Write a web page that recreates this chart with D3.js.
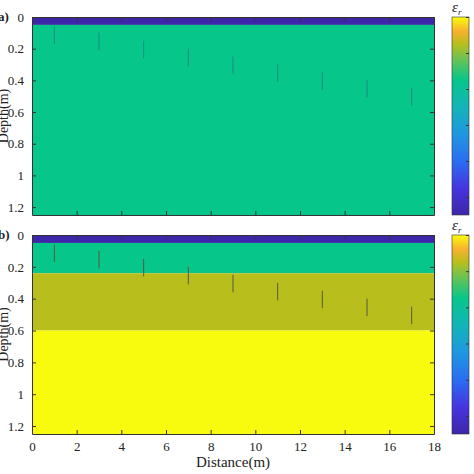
<!DOCTYPE html>
<html><head><meta charset="utf-8">
<script src="https://cdn.jsdelivr.net/npm/d3@7"></script>
<style>body{margin:0;background:#fff}svg text{font-family:"Liberation Serif","DejaVu Serif",serif !important;fill:#222}</style>
</head><body><svg id="c" width="474" height="474"></svg>
<script>
// layers: [top, bottom, eps]
const layersA = [[0, 0.05, 1], [0.05, 1.25, 8.5]];
const layersB = [[0, 0.05, 1], [0.05, 0.24, 8.5], [0.24, 0.6, 10.5], [0.6, 1.25, 12]];
const pipeX = [1, 3, 5, 7, 9, 11, 13, 15, 17];
const pipeTop = [0.06, 0.1, 0.15, 0.2, 0.25, 0.3, 0.35, 0.4, 0.45];
const pipeLen = 0.11;
const xTicks = [0, 2, 4, 6, 8, 10, 12, 14, 16, 18];
const yTicks = [0, 0.2, 0.4, 0.6, 0.8, 1, 1.2];
const cbTicks = [2, 4, 6, 8, 10, 12];
const cmapVals = [1, 2.5, 4, 5.5, 7, 8.5, 9.7, 10.5, 11.2, 12];
const cmapCols = ["#3e26a8", "#4535e0", "#2a6ef2", "#1f97e0", "#13b4b8", "#06c68a", "#6ec252", "#b8bf1c", "#f7b12e", "#f9fb0e"];

const svg = d3.select("#c");
const color = d3.scaleLinear().domain(cmapVals).range(cmapCols);
const x = d3.scaleLinear().domain([0, 18]).range([32, 434]);

function panel(top, bottom, layers, label, lineCol, showX) {
  const y = d3.scaleLinear().domain([0, 1.25]).range([top, bottom]);
  const g = svg.append("g");
  g.selectAll("rect.l").data(layers).join("rect")
    .attr("x", x(0)).attr("width", x(18) - x(0))
    .attr("y", d => y(d[0])).attr("height", d => y(d[1]) - y(d[0]))
    .attr("fill", d => color(d[2]));
  g.selectAll("line.p").data(pipeX).join("line")
    .attr("x1", d => x(d)).attr("x2", d => x(d))
    .attr("y1", (d, i) => y(pipeTop[i])).attr("y2", (d, i) => y(pipeTop[i] + pipeLen))
    .attr("stroke", lineCol).attr("stroke-width", 1);
  const ax = (a, tr) => g.append("g").attr("transform", tr).call(a);
  ax(d3.axisLeft(y).tickValues(yTicks).tickSizeInner(-4).tickSizeOuter(0).tickPadding(8).tickFormat(d3.format("~g")), `translate(${x(0)},0)`);
  ax(d3.axisRight(y).tickValues(yTicks).tickSizeInner(-4).tickSizeOuter(0).tickFormat(""), `translate(${x(18)},0)`);
  const xb = ax(d3.axisBottom(x).tickValues(xTicks).tickSizeInner(-4).tickSizeOuter(0).tickPadding(8), `translate(0,${bottom})`);
  ax(d3.axisTop(x).tickValues(xTicks).tickSizeInner(-4).tickSizeOuter(0).tickFormat(""), `translate(0,${top})`);
  if (!showX) xb.selectAll("text").remove();
  g.selectAll(".domain").attr("stroke", "#333");
  g.selectAll(".tick line").attr("stroke", "#333");
  g.selectAll(".tick text").attr("font-size", 13);
  g.append("text").attr("x", -2).attr("y", top + 4).attr("font-size", 13).attr("font-weight", "bold").text(label);
  g.append("text").attr("transform", `translate(8,${(top + bottom) / 2}) rotate(-90)`)
    .attr("text-anchor", "middle").attr("font-size", 14).text("Depth(m)");

  // colorbar
  const cy = d3.scaleLinear().domain([1, 12]).range([bottom, top]);
  const id = "grad" + label[0];
  const grad = svg.append("defs").append("linearGradient").attr("id", id)
    .attr("x1", 0).attr("y1", 1).attr("x2", 0).attr("y2", 0);
  grad.selectAll("stop").data(cmapVals).join("stop")
    .attr("offset", d => (d - 1) / 11).attr("stop-color", d => color(d));
  g.append("rect").attr("x", 452).attr("y", top).attr("width", 17).attr("height", bottom - top)
    .attr("fill", `url(#${id})`).attr("stroke", "#333").attr("stroke-width", 0.6);
  const cb = ax(d3.axisRight(cy).tickValues(cbTicks).tickSizeInner(-3).tickSizeOuter(0).tickPadding(6), `translate(469,0)`);
  cb.select(".domain").remove();
  cb.selectAll("line").attr("stroke", "#333");
  cb.selectAll("text").attr("font-size", 13);
  const t = g.append("text").attr("x", 452).attr("y", top - 5).attr("font-size", 15).attr("font-style", "italic");
  t.append("tspan").text("ε");
  t.append("tspan").attr("font-size", 9).attr("dy", 3).text("r");
  return g;
}
panel(17, 215, layersA, "a)", "#1a8a86", false);
panel(235, 434, layersB, "b)", "#555a40", true);
svg.append("text").attr("x", x(9)).attr("y", 467).attr("text-anchor", "middle").attr("font-size", 15).text("Distance(m)");
</script></body></html>
